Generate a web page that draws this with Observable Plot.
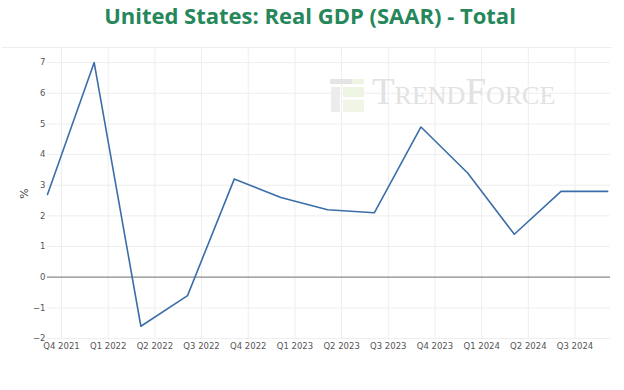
<!DOCTYPE html>
<html><head><meta charset="utf-8">
<script src="https://cdn.jsdelivr.net/npm/d3@7"></script>
<script src="https://cdn.jsdelivr.net/npm/@observablehq/plot@0.6"></script>
<style>
body{margin:0;background:#fff;width:624px;height:390px;overflow:hidden;position:relative;font-family:"Open Sans",sans-serif}
#title{height:30px;line-height:30px;font-size:22px;font-weight:700;color:#25875a;text-align:center;padding-right:4px}
#sep{height:17px;border-bottom:1px solid #eeeeee;margin:0 12px 0 2px}
#wm{position:absolute;left:0;top:0;width:624px;height:390px;pointer-events:none}
#wm .t{position:absolute;left:372px;top:70px;font-family:"Liberation Serif",serif;font-size:37px;font-variant:small-caps;color:#e2e2e2;line-height:44px}
#wm .b{position:absolute}
</style>
</head><body>
<div id="title">United States: Real GDP (SAAR) - Total</div>
<div id="sep"></div>
<div id="chart"></div>
<div id="wm">
  <div class="b" style="left:330px;top:79px;width:22px;height:5px;background:#e4e4e4"></div>
  <div class="b" style="left:352px;top:79px;width:12px;height:5px;background:#eef4e2"></div>
  <div class="b" style="left:331px;top:87px;width:9px;height:25px;background:#ececec"></div>
  <div class="b" style="left:343px;top:87px;width:21px;height:10px;background:#eef4e2"></div>
  <div class="b" style="left:343px;top:100px;width:21px;height:12px;background:#f0f5e6"></div>
  <div class="t">TrendForce</div>
</div>
<script>
const quarters = ["Q3 2021","Q4 2021","Q1 2022","Q2 2022","Q3 2022","Q4 2022","Q1 2023","Q2 2023","Q3 2023","Q4 2023","Q1 2024","Q2 2024","Q3 2024"];
const gdp = [2.7, 7.0, -1.6, -0.6, 3.2, 2.6, 2.2, 2.1, 4.9, 3.4, 1.4, 2.8, 2.8];
const tickLabels = ["Q4 2021","Q1 2022","Q2 2022","Q3 2022","Q4 2022","Q1 2023","Q2 2023","Q3 2023","Q4 2023","Q1 2024","Q2 2024","Q3 2024"];
const yTicks = [-2,-1,0,1,2,3,4,5,6,7];

const data = quarters.map((q, i) => ({q, i, v: gdp[i]}));
const tickOffset = 0.3;
const xTicks = tickLabels.map((t, k) => k + tickOffset);

const chart = Plot.plot({
  width: 624,
  height: 342,
  marginTop: 0,
  marginBottom: 52,
  marginLeft: 47,
  marginRight: 14,
  style: {fontFamily: "DejaVu Sans", fontSize: "8.5px", color: "#555", background: "transparent"},
  x: {domain: [0, quarters.length - 1 + 0.06]},
  y: {domain: [-2, 7.46]},
  marks: [
    Plot.gridX(xTicks, {stroke: "#eeeeee", strokeOpacity: 1}),
    Plot.gridY(yTicks, {stroke: "#eeeeee", strokeOpacity: 1}),
    Plot.ruleY([0], {stroke: "#8c8c8c", strokeWidth: 1.2}),
    Plot.line(data, {x: "i", y: "v", stroke: "#3b6ea8", strokeWidth: 1.6}),
    Plot.axisX(xTicks, {tickSize: 0, tickPadding: 4, tickFormat: (d) => tickLabels[Math.round(d - tickOffset)], label: null}),
    Plot.axisY(yTicks, {tickSize: 0, tickPadding: 2, label: "%", labelAnchor: "center", labelArrow: "none", labelOffset: 27})
  ]
});
document.getElementById("chart").appendChild(chart);
const lbl = chart.querySelectorAll("[aria-label='y-axis label'] text");
lbl.forEach(t => { t.style.fontSize = "11px"; t.style.fill = "#444"; });
</script>
</body></html>
